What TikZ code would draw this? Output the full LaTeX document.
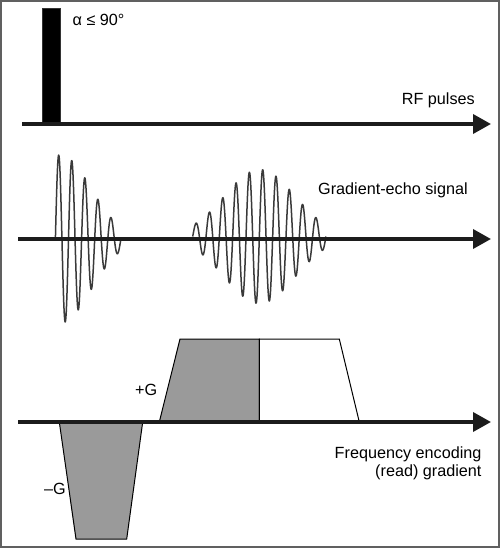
\documentclass[tikz,border=0pt]{standalone}
\usepackage{fontspec}
\setmainfont{Liberation Sans}
\usetikzlibrary{arrows.meta}
\definecolor{axiscol}{HTML}{1C1C1C}
\definecolor{wavecol}{HTML}{3A3A3A}
\definecolor{lobegray}{HTML}{9A9A9A}
\definecolor{framecol}{HTML}{606060}
\tikzset{
  axisline/.style={draw=axiscol, line width=3.6pt, -{Triangle[length=18pt,width=19pt]}},
  wave/.style={draw=wavecol, line width=1.5pt, line join=round},
  lobe/.style={draw=black, line width=1pt, line join=miter},
  lbl/.style={inner sep=0pt, font=\fontsize{16.2}{18}\selectfont, text=black},
}
\begin{document}
\begin{tikzpicture}[x=1pt,y=-1pt]
\useasboundingbox (0,0) rectangle (500,548);
\draw[framecol, line width=2pt] (1,1) rectangle (499,547);
% RF pulse
\node[fill=black, draw=black!80, line width=0.5pt, minimum width=18pt, minimum height=116pt, inner sep=0pt, anchor=north west] (pulse) at (42,8) {};
% axes
\coordinate (rfA) at (22,124);
\coordinate (rfB) at (491,124);
\coordinate (sgA) at (18,239);
\coordinate (sgB) at (491,239);
\coordinate (grA) at (18,422);
\coordinate (grB) at (491,422);
% signal waves
\draw[wave] plot[domain=0:65.5, samples=400] ({55.4+\x},{239-84*exp(-1*(((\x-5)/43.3)^2))*sin(27.4809*\x)});
\draw[wave] plot[domain=0:133.3, samples=600] ({192.7+\x},{236.5-67*exp(-1*(((\x-67)/50)^2))*sin(27.0068*\x)});
% gradient lobes
\draw[lobe, fill=lobegray] (59.3,422) -- (142.7,422) -- (126.7,539) -- (76,539) -- cycle;
\draw[lobe, fill=lobegray] (159.3,422) -- (180,339) -- (259.3,339) -- (259.3,422) -- cycle;
\draw[lobe, fill=white] (259.3,422) -- (259.3,339) -- (339.3,339) -- (359.3,422) -- cycle;
\draw[axisline] (rfA) -- (rfB);
\draw[axisline] (sgA) -- (sgB);
\draw[axisline] (grA) -- (grB);
% labels
\node[lbl, anchor=base west] (alpha) at (72.5,26) {α ≤ 90°};
\node[lbl, anchor=base east] (rflbl) at (475,105) {RF pulses};
\node[lbl, anchor=base west] (sglbl) at (318,194) {Gradient-echo signal};
\node[lbl, anchor=base east] (plusG) at (157.5,395) {+G};
\node[lbl, anchor=base east] (minusG) at (66,494) {–G};
\node[lbl, anchor=base east] (grlbl) at (481.7,458.3) {Frequency encoding};
\node[lbl, anchor=base east] (grlbl2) at (481.7,476.3) {(read) gradient};
\end{tikzpicture}
\end{document}
